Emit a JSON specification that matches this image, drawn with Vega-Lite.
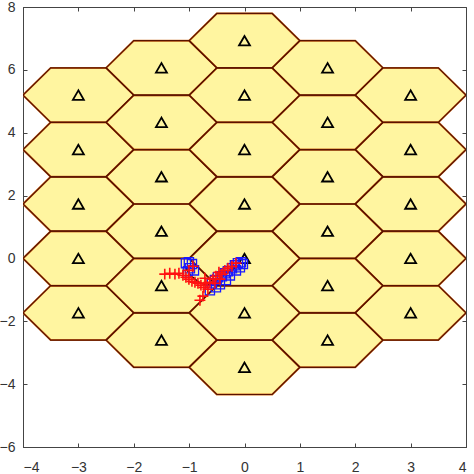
{
  "$schema": "https://vega.github.io/schema/vega-lite/v6.json",
  "width": 443,
  "height": 440,
  "autosize": "none",
  "padding": {"left": 23, "top": 7, "right": 8, "bottom": 27},
  "background": "white",
  "config": {
    "view": {"stroke": "#444444", "strokeWidth": 1},
    "axis": {"grid": false, "domainColor": "#444444", "tickColor": "#444444", "labelColor": "#333333", "labelFont": "Liberation Sans", "labelFontSize": 14, "title": null, "tickSize": -4, "domain": true}
  },
  "datasets": {
    "hex": [
      {"h":1,"i":0,"x":1,"y":-3.464},{"h":1,"i":1,"x":0.5,"y":-2.598},{"h":1,"i":2,"x":-0.5,"y":-2.598},{"h":1,"i":3,"x":-1,"y":-3.464},{"h":1,"i":4,"x":-0.5,"y":-4.33},{"h":1,"i":5,"x":0.5,"y":-4.33},{"h":1,"i":6,"x":1,"y":-3.464},
      {"h":2,"i":0,"x":1,"y":-1.732},{"h":2,"i":1,"x":0.5,"y":-0.866},{"h":2,"i":2,"x":-0.5,"y":-0.866},{"h":2,"i":3,"x":-1,"y":-1.732},{"h":2,"i":4,"x":-0.5,"y":-2.598},{"h":2,"i":5,"x":0.5,"y":-2.598},{"h":2,"i":6,"x":1,"y":-1.732},
      {"h":3,"i":0,"x":1,"y":0},{"h":3,"i":1,"x":0.5,"y":0.866},{"h":3,"i":2,"x":-0.5,"y":0.866},{"h":3,"i":3,"x":-1,"y":0},{"h":3,"i":4,"x":-0.5,"y":-0.866},{"h":3,"i":5,"x":0.5,"y":-0.866},{"h":3,"i":6,"x":1,"y":0},
      {"h":4,"i":0,"x":1,"y":1.732},{"h":4,"i":1,"x":0.5,"y":2.598},{"h":4,"i":2,"x":-0.5,"y":2.598},{"h":4,"i":3,"x":-1,"y":1.732},{"h":4,"i":4,"x":-0.5,"y":0.866},{"h":4,"i":5,"x":0.5,"y":0.866},{"h":4,"i":6,"x":1,"y":1.732},
      {"h":5,"i":0,"x":1,"y":3.464},{"h":5,"i":1,"x":0.5,"y":4.33},{"h":5,"i":2,"x":-0.5,"y":4.33},{"h":5,"i":3,"x":-1,"y":3.464},{"h":5,"i":4,"x":-0.5,"y":2.598},{"h":5,"i":5,"x":0.5,"y":2.598},{"h":5,"i":6,"x":1,"y":3.464},
      {"h":6,"i":0,"x":1,"y":5.196},{"h":6,"i":1,"x":0.5,"y":6.062},{"h":6,"i":2,"x":-0.5,"y":6.062},{"h":6,"i":3,"x":-1,"y":5.196},{"h":6,"i":4,"x":-0.5,"y":4.33},{"h":6,"i":5,"x":0.5,"y":4.33},{"h":6,"i":6,"x":1,"y":5.196},
      {"h":7,"i":0,"x":1,"y":6.928},{"h":7,"i":1,"x":0.5,"y":7.794},{"h":7,"i":2,"x":-0.5,"y":7.794},{"h":7,"i":3,"x":-1,"y":6.928},{"h":7,"i":4,"x":-0.5,"y":6.062},{"h":7,"i":5,"x":0.5,"y":6.062},{"h":7,"i":6,"x":1,"y":6.928},
      {"h":8,"i":0,"x":-0.5,"y":-2.598},{"h":8,"i":1,"x":-1,"y":-1.732},{"h":8,"i":2,"x":-2,"y":-1.732},{"h":8,"i":3,"x":-2.5,"y":-2.598},{"h":8,"i":4,"x":-2,"y":-3.464},{"h":8,"i":5,"x":-1,"y":-3.464},{"h":8,"i":6,"x":-0.5,"y":-2.598},
      {"h":9,"i":0,"x":-0.5,"y":-0.866},{"h":9,"i":1,"x":-1,"y":0},{"h":9,"i":2,"x":-2,"y":0},{"h":9,"i":3,"x":-2.5,"y":-0.866},{"h":9,"i":4,"x":-2,"y":-1.732},{"h":9,"i":5,"x":-1,"y":-1.732},{"h":9,"i":6,"x":-0.5,"y":-0.866},
      {"h":10,"i":0,"x":-0.5,"y":0.866},{"h":10,"i":1,"x":-1,"y":1.732},{"h":10,"i":2,"x":-2,"y":1.732},{"h":10,"i":3,"x":-2.5,"y":0.866},{"h":10,"i":4,"x":-2,"y":0},{"h":10,"i":5,"x":-1,"y":0},{"h":10,"i":6,"x":-0.5,"y":0.866},
      {"h":11,"i":0,"x":-0.5,"y":2.598},{"h":11,"i":1,"x":-1,"y":3.464},{"h":11,"i":2,"x":-2,"y":3.464},{"h":11,"i":3,"x":-2.5,"y":2.598},{"h":11,"i":4,"x":-2,"y":1.732},{"h":11,"i":5,"x":-1,"y":1.732},{"h":11,"i":6,"x":-0.5,"y":2.598},
      {"h":12,"i":0,"x":-0.5,"y":4.33},{"h":12,"i":1,"x":-1,"y":5.196},{"h":12,"i":2,"x":-2,"y":5.196},{"h":12,"i":3,"x":-2.5,"y":4.33},{"h":12,"i":4,"x":-2,"y":3.464},{"h":12,"i":5,"x":-1,"y":3.464},{"h":12,"i":6,"x":-0.5,"y":4.33},
      {"h":13,"i":0,"x":-0.5,"y":6.062},{"h":13,"i":1,"x":-1,"y":6.928},{"h":13,"i":2,"x":-2,"y":6.928},{"h":13,"i":3,"x":-2.5,"y":6.062},{"h":13,"i":4,"x":-2,"y":5.196},{"h":13,"i":5,"x":-1,"y":5.196},{"h":13,"i":6,"x":-0.5,"y":6.062},
      {"h":14,"i":0,"x":2.5,"y":-2.598},{"h":14,"i":1,"x":2,"y":-1.732},{"h":14,"i":2,"x":1,"y":-1.732},{"h":14,"i":3,"x":0.5,"y":-2.598},{"h":14,"i":4,"x":1,"y":-3.464},{"h":14,"i":5,"x":2,"y":-3.464},{"h":14,"i":6,"x":2.5,"y":-2.598},
      {"h":15,"i":0,"x":2.5,"y":-0.866},{"h":15,"i":1,"x":2,"y":0},{"h":15,"i":2,"x":1,"y":0},{"h":15,"i":3,"x":0.5,"y":-0.866},{"h":15,"i":4,"x":1,"y":-1.732},{"h":15,"i":5,"x":2,"y":-1.732},{"h":15,"i":6,"x":2.5,"y":-0.866},
      {"h":16,"i":0,"x":2.5,"y":0.866},{"h":16,"i":1,"x":2,"y":1.732},{"h":16,"i":2,"x":1,"y":1.732},{"h":16,"i":3,"x":0.5,"y":0.866},{"h":16,"i":4,"x":1,"y":0},{"h":16,"i":5,"x":2,"y":0},{"h":16,"i":6,"x":2.5,"y":0.866},
      {"h":17,"i":0,"x":2.5,"y":2.598},{"h":17,"i":1,"x":2,"y":3.464},{"h":17,"i":2,"x":1,"y":3.464},{"h":17,"i":3,"x":0.5,"y":2.598},{"h":17,"i":4,"x":1,"y":1.732},{"h":17,"i":5,"x":2,"y":1.732},{"h":17,"i":6,"x":2.5,"y":2.598},
      {"h":18,"i":0,"x":2.5,"y":4.33},{"h":18,"i":1,"x":2,"y":5.196},{"h":18,"i":2,"x":1,"y":5.196},{"h":18,"i":3,"x":0.5,"y":4.33},{"h":18,"i":4,"x":1,"y":3.464},{"h":18,"i":5,"x":2,"y":3.464},{"h":18,"i":6,"x":2.5,"y":4.33},
      {"h":19,"i":0,"x":2.5,"y":6.062},{"h":19,"i":1,"x":2,"y":6.928},{"h":19,"i":2,"x":1,"y":6.928},{"h":19,"i":3,"x":0.5,"y":6.062},{"h":19,"i":4,"x":1,"y":5.196},{"h":19,"i":5,"x":2,"y":5.196},{"h":19,"i":6,"x":2.5,"y":6.062},
      {"h":20,"i":0,"x":-2,"y":-1.732},{"h":20,"i":1,"x":-2.5,"y":-0.866},{"h":20,"i":2,"x":-3.5,"y":-0.866},{"h":20,"i":3,"x":-4,"y":-1.732},{"h":20,"i":4,"x":-3.5,"y":-2.598},{"h":20,"i":5,"x":-2.5,"y":-2.598},{"h":20,"i":6,"x":-2,"y":-1.732},
      {"h":21,"i":0,"x":-2,"y":0},{"h":21,"i":1,"x":-2.5,"y":0.866},{"h":21,"i":2,"x":-3.5,"y":0.866},{"h":21,"i":3,"x":-4,"y":0},{"h":21,"i":4,"x":-3.5,"y":-0.866},{"h":21,"i":5,"x":-2.5,"y":-0.866},{"h":21,"i":6,"x":-2,"y":0},
      {"h":22,"i":0,"x":-2,"y":1.732},{"h":22,"i":1,"x":-2.5,"y":2.598},{"h":22,"i":2,"x":-3.5,"y":2.598},{"h":22,"i":3,"x":-4,"y":1.732},{"h":22,"i":4,"x":-3.5,"y":0.866},{"h":22,"i":5,"x":-2.5,"y":0.866},{"h":22,"i":6,"x":-2,"y":1.732},
      {"h":23,"i":0,"x":-2,"y":3.464},{"h":23,"i":1,"x":-2.5,"y":4.33},{"h":23,"i":2,"x":-3.5,"y":4.33},{"h":23,"i":3,"x":-4,"y":3.464},{"h":23,"i":4,"x":-3.5,"y":2.598},{"h":23,"i":5,"x":-2.5,"y":2.598},{"h":23,"i":6,"x":-2,"y":3.464},
      {"h":24,"i":0,"x":-2,"y":5.196},{"h":24,"i":1,"x":-2.5,"y":6.062},{"h":24,"i":2,"x":-3.5,"y":6.062},{"h":24,"i":3,"x":-4,"y":5.196},{"h":24,"i":4,"x":-3.5,"y":4.33},{"h":24,"i":5,"x":-2.5,"y":4.33},{"h":24,"i":6,"x":-2,"y":5.196},
      {"h":25,"i":0,"x":4,"y":-1.732},{"h":25,"i":1,"x":3.5,"y":-0.866},{"h":25,"i":2,"x":2.5,"y":-0.866},{"h":25,"i":3,"x":2,"y":-1.732},{"h":25,"i":4,"x":2.5,"y":-2.598},{"h":25,"i":5,"x":3.5,"y":-2.598},{"h":25,"i":6,"x":4,"y":-1.732},
      {"h":26,"i":0,"x":4,"y":0},{"h":26,"i":1,"x":3.5,"y":0.866},{"h":26,"i":2,"x":2.5,"y":0.866},{"h":26,"i":3,"x":2,"y":0},{"h":26,"i":4,"x":2.5,"y":-0.866},{"h":26,"i":5,"x":3.5,"y":-0.866},{"h":26,"i":6,"x":4,"y":0},
      {"h":27,"i":0,"x":4,"y":1.732},{"h":27,"i":1,"x":3.5,"y":2.598},{"h":27,"i":2,"x":2.5,"y":2.598},{"h":27,"i":3,"x":2,"y":1.732},{"h":27,"i":4,"x":2.5,"y":0.866},{"h":27,"i":5,"x":3.5,"y":0.866},{"h":27,"i":6,"x":4,"y":1.732},
      {"h":28,"i":0,"x":4,"y":3.464},{"h":28,"i":1,"x":3.5,"y":4.33},{"h":28,"i":2,"x":2.5,"y":4.33},{"h":28,"i":3,"x":2,"y":3.464},{"h":28,"i":4,"x":2.5,"y":2.598},{"h":28,"i":5,"x":3.5,"y":2.598},{"h":28,"i":6,"x":4,"y":3.464},
      {"h":29,"i":0,"x":4,"y":5.196},{"h":29,"i":1,"x":3.5,"y":6.062},{"h":29,"i":2,"x":2.5,"y":6.062},{"h":29,"i":3,"x":2,"y":5.196},{"h":29,"i":4,"x":2.5,"y":4.33},{"h":29,"i":5,"x":3.5,"y":4.33},{"h":29,"i":6,"x":4,"y":5.196}
    ],
    "centers": [
      {"x":0,"y":-3.464},{"x":0,"y":-1.732},{"x":0,"y":0},{"x":0,"y":1.732},{"x":0,"y":3.464},{"x":0,"y":5.196},{"x":0,"y":6.928},
      {"x":-1.5,"y":-2.598},{"x":-1.5,"y":-0.866},{"x":-1.5,"y":0.866},{"x":-1.5,"y":2.598},{"x":-1.5,"y":4.33},{"x":-1.5,"y":6.062},
      {"x":1.5,"y":-2.598},{"x":1.5,"y":-0.866},{"x":1.5,"y":0.866},{"x":1.5,"y":2.598},{"x":1.5,"y":4.33},{"x":1.5,"y":6.062},
      {"x":-3,"y":-1.732},{"x":-3,"y":0},{"x":-3,"y":1.732},{"x":-3,"y":3.464},{"x":-3,"y":5.196},
      {"x":3,"y":-1.732},{"x":3,"y":0},{"x":3,"y":1.732},{"x":3,"y":3.464},{"x":3,"y":5.196}
    ],
    "truth": [
      {"k":1,"x":-1.06,"y":-0.3},{"k":2,"x":-0.97,"y":-0.55},{"k":3,"x":-0.82,"y":-0.76},{"k":4,"x":-0.68,"y":-0.86},{"k":5,"x":-0.5,"y":-0.7},{"k":6,"x":-0.3,"y":-0.45},{"k":7,"x":-0.1,"y":-0.22}
    ],
    "red": [
      {"x":-1.44,"y":-0.5},{"x":-1.35,"y":-0.47},{"x":-1.256,"y":-0.5},{"x":-1.184,"y":-0.47},{"x":-1.112,"y":-0.535},{"x":-1.058,"y":-0.6},{"x":-1.004,"y":-0.66},{"x":-0.949,"y":-0.73},{"x":-0.895,"y":-0.76},{"x":-0.841,"y":-0.79},{"x":-0.787,"y":-0.85},{"x":-0.733,"y":-0.92},{"x":-0.697,"y":-0.79},{"x":-0.661,"y":-0.98},{"x":-0.751,"y":-1.2},{"x":-0.805,"y":-1.33},{"x":-0.625,"y":-0.76},{"x":-0.57,"y":-0.66},{"x":-0.516,"y":-0.57},{"x":-0.462,"y":-0.44},{"x":-0.408,"y":-0.5},{"x":-0.354,"y":-0.38},{"x":-0.3,"y":-0.31},{"x":-0.227,"y":-0.25},{"x":-0.155,"y":-0.15},{"x":-1.004,"y":-0.38},{"x":-0.931,"y":-0.25},{"x":-0.715,"y":-0.63},{"x":-0.534,"y":-0.79},{"x":-0.444,"y":-0.66}
    ],
    "blue": [
      {"x":-1.058,"y":-0.15},{"x":-1.004,"y":-0.12},{"x":-0.949,"y":-0.18},{"x":-0.986,"y":-0.31},{"x":-0.913,"y":-0.38},{"x":-1.022,"y":-0.41},{"x":-0.588,"y":-0.79},{"x":-0.534,"y":-0.69},{"x":-0.48,"y":-0.6},{"x":-0.408,"y":-0.57},{"x":-0.354,"y":-0.47},{"x":-0.3,"y":-0.41},{"x":-0.227,"y":-0.31},{"x":-0.173,"y":-0.22},{"x":-0.119,"y":-0.15},{"x":-0.065,"y":-0.12},{"x":-0.029,"y":-0.18},{"x":-0.264,"y":-0.54},{"x":-0.336,"y":-0.69},{"x":-0.444,"y":-0.82},{"x":-0.516,"y":-0.92},{"x":-0.625,"y":-1.01},{"x":-0.155,"y":-0.38},{"x":-0.083,"y":-0.28}
    ]
  },
  "resolve": {"axis": {"x": "independent", "y": "independent"}},
  "layer": [
    {
      "data": {"name": "hex"},
      "mark": {"type": "line", "fill": "#FFF5A0", "stroke": "#d07020", "strokeWidth": 2, "clip": true},
      "encoding": {
        "x": {"field": "x", "type": "quantitative", "scale": {"domain": [-4, 4], "nice": false, "zero": false},
              "axis": {"orient": "bottom", "values": [-4,-3,-2,-1,0,1,2,3,4], "labelPadding": 17, "format": "d"}},
        "y": {"field": "y", "type": "quantitative", "scale": {"domain": [-6, 8], "nice": false, "zero": false},
              "axis": {"orient": "left", "values": [-6,-4,-2,0,2,4,6,8], "labelPadding": 12, "format": "d"}},
        "detail": {"field": "h", "type": "nominal"},
        "order": {"field": "i", "type": "quantitative"}
      }
    },
    {
      "data": {"name": "hex"},
      "mark": {"type": "line", "stroke": "#5a1200", "strokeWidth": 1.2, "clip": true},
      "encoding": {
        "x": {"field": "x", "type": "quantitative", "axis": null},
        "y": {"field": "y", "type": "quantitative", "axis": null},
        "detail": {"field": "h", "type": "nominal"},
        "order": {"field": "i", "type": "quantitative"}
      }
    },
    {
      "data": {"name": "centers"},
      "mark": {"type": "point", "shape": "triangle-up", "size": 120, "filled": false, "stroke": "black", "strokeWidth": 1.8, "opacity": 1},
      "encoding": {
        "x": {"field": "x", "type": "quantitative",
              "axis": {"orient": "top", "values": [-4,-3,-2,-1,0,1,2,3,4], "labels": false, "domain": false}},
        "y": {"field": "y", "type": "quantitative",
              "axis": {"orient": "right", "values": [-6,-4,-2,0,2,4,6,8], "labels": false, "domain": false}}
      }
    },
    {
      "data": {"name": "truth"},
      "mark": {"type": "line", "stroke": "black", "strokeWidth": 1.5},
      "encoding": {
        "x": {"field": "x", "type": "quantitative", "axis": null},
        "y": {"field": "y", "type": "quantitative", "axis": null},
        "order": {"field": "k", "type": "quantitative"}
      }
    },
    {
      "data": {"name": "blue"},
      "mark": {"type": "point", "shape": "square", "size": 85, "filled": false, "stroke": "#1a1aff", "strokeWidth": 1.3, "opacity": 1},
      "encoding": {
        "x": {"field": "x", "type": "quantitative", "axis": null},
        "y": {"field": "y", "type": "quantitative", "axis": null}
      }
    },
    {
      "data": {"name": "red"},
      "mark": {"type": "point", "shape": "M-1,0H1M0,-1V1", "size": 120, "filled": false, "stroke": "#ff1010", "strokeWidth": 1.6, "opacity": 1},
      "encoding": {
        "x": {"field": "x", "type": "quantitative", "axis": null},
        "y": {"field": "y", "type": "quantitative", "axis": null}
      }
    }
  ]
}
